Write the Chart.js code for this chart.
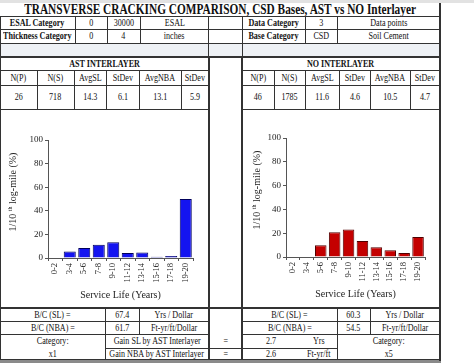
<!DOCTYPE html>
<html><head><meta charset="utf-8">
<script src="https://cdn.jsdelivr.net/npm/chart.js@4"></script>
<style>
html,body{margin:0;padding:0;background:#fff;}
#page{position:relative;width:474px;height:363px;overflow:hidden;font-family:'Liberation Serif','Times New Roman',serif;color:#111;}
.c{position:absolute;display:flex;align-items:center;justify-content:center;font-size:9.5px;white-space:nowrap;z-index:1;}
.c span{display:inline-block;transform:scaleX(0.85);transform-origin:center;}
.b{font-weight:bold;}
.ln{position:absolute;background:#333;z-index:3;}
canvas{position:absolute;z-index:0;}
</style></head>
<body><div id="page"></div>
<script>
// ---------- DATA ----------
const categories = ['0-2','3-4','5-6','7-8','9-10','11-12','13-14','15-16','17-18','19-20'];
const astValues = [0, 5.6, 8.4, 11.2, 13.4, 4.2, 4.7, 1.0, 1.6, 50.0];
const noValues  = [0, 0, 9.8, 20.9, 23.2, 13.4, 8.1, 5.6, 3.4, 16.8];
const yMin = 0, yMax = 100, yStep = 10;
const xAxisTitle = 'Service Life (Years)';
const yAxisTitleParts = ['1/10 ', 'th', ' log-mile (%)'];

const titleText = 'TRANSVERSE CRACKING COMPARISON, CSD Bases, AST vs NO Interlayer';
const topRow1 = ['ESAL Category','0','30000','ESAL','','Data Category','3','Data points'];
const topRow2 = ['Thickness Category','0','4','inches','','Base Category','CSD','Soil Cement'];
const astHeader = 'AST INTERLAYER';
const noHeader = 'NO INTERLAYER';
const statHeaders = ['N(P)','N(S)','AvgSL','StDev','AvgNBA','StDev'];
const astStats = ['26','718','14.3','6.1','13.1','5.9'];
const noStats  = ['46','1785','11.6','4.6','10.5','4.7'];
const bcLeft1 = ['B/C (SL) =','67.4','Yrs / Dollar'];
const bcLeft2 = ['B/C (NBA) =','61.7','Ft-yr/ft/Dollar'];
const bcRight1 = ['B/C (SL) =','60.3','Yrs / Dollar'];
const bcRight2 = ['B/C (NBA) =','54.5','Ft-yr/ft/Dollar'];
const gainRow1 = ['Category:','Gain SL by AST Interlayer','=','2.7','Yrs','Category:'];
const gainRow2 = ['x1','Gain NBA by AST Interlayer','=','2.6','Ft-yr/ft','x5'];

// ---------- LAYOUT HELPERS ----------
const page = document.getElementById('page');
function box(x1,y1,x2,y2,bg,z){const d=document.createElement('div');d.style.cssText=`position:absolute;left:${x1}px;top:${y1}px;width:${x2-x1}px;height:${y2-y1}px;background:${bg};z-index:${z||0}`;page.appendChild(d);}
function cell(x1,y1,x2,y2,text,bold,size,sx){const d=document.createElement('div');d.className='c'+(bold?' b':'');d.style.left=x1+'px';d.style.top=y1+'px';d.style.width=(x2-x1)+'px';d.style.height=(y2-y1)+'px';if(size)d.style.fontSize=size+'px';const s=document.createElement('span');s.textContent=text;if(sx)s.style.transform=`scaleX(${sx})`;d.appendChild(s);page.appendChild(d);}
function hl(y,x1,x2,t){const d=document.createElement('div');d.className='ln';d.style.cssText+=`left:${x1}px;top:${y}px;width:${x2-x1}px;height:${t||1}px`;page.appendChild(d);}
function vl(x,y1,y2,t){const d=document.createElement('div');d.className='ln';d.style.cssText+=`left:${x}px;top:${y1}px;width:${t||1}px;height:${y2-y1}px`;page.appendChild(d);}
function rowCells(cols,y1,y2,texts,boldIdx){texts.forEach((t,i)=>cell(cols[i],y1,cols[i+1],y2,t,boldIdx&&boldIdx.includes(i)));}

// backgrounds
box(0,0,474,3,'#e2e2e2');
box(0,43,440,57,'#eef1f5');
box(0,360,441,363,'#8a8a8a');

// title
cell(0,3,440,16,titleText,true,14.5,0.78);
const topCols=[0,75,107,140,209,242,305,337,440];
rowCells(topCols,16,29,topRow1,[0,5]);
rowCells(topCols,29,43,topRow2,[0,5]);

cell(0,57,209,70,astHeader,true);
cell(242,57,440,70,noHeader,true);
const lCols=[0,37,74,106,139,181,209], rCols=[242,274,305,339,370,410,440];
rowCells(lCols,70,85,statHeaders);
rowCells(rCols,70,85,statHeaders);
rowCells(lCols,85,109,astStats);
rowCells(rCols,85,109,noStats);

const bl=[0,105,139,209], br=[242,337,370,440];
rowCells(bl,308,321,bcLeft1); rowCells(bl,321,334,bcLeft2);
rowCells(br,308,321,bcRight1); rowCells(br,321,334,bcRight2);
const gCols=[0,105,209,242,300,337,440];
rowCells(gCols,334,348,gainRow1);
rowCells(gCols,348,360,gainRow2);

// lines
hl(16,0,440); hl(29,0,440); hl(43,0,440); hl(56,0,441,2);
hl(70,0,209); hl(70,243,440); hl(85,0,209); hl(85,243,440); hl(109,0,209); hl(109,243,440);
hl(307,0,441,2); hl(321,0,209); hl(321,243,440); hl(334,0,209); hl(334,243,440); hl(348,105,337);
hl(359,0,441,1);
vl(0,16,360); vl(439,3,361,2);
[75,107,140,305,337].forEach(x=>vl(x,16,43));
vl(208,16,57,1); vl(242,16,57,1);
vl(208,57,360,2); vl(241,57,360,2);
[37,74,106,139,181].forEach(x=>vl(x,70,109));
[274,305,339,370,410].forEach(x=>vl(x,70,109));
vl(105,308,360); vl(139,308,334); vl(337,308,360); vl(370,308,334);

// ---------- CHARTS ----------
const serif = "'Liberation Serif','Times New Roman',serif";
const yTitlePlugin = {
  id:'ytitle',
  afterDraw(chart,args,opts){
    const ctx=chart.ctx; ctx.save();
    ctx.translate(opts.x,opts.y); ctx.rotate(-Math.PI/2);
    const f1='10px '+serif, f2='6px '+serif;
    ctx.font=f1; const w1=ctx.measureText(yAxisTitleParts[0]).width;
    ctx.font=f2; const w2=ctx.measureText(yAxisTitleParts[1]).width;
    ctx.font=f1; const w3=ctx.measureText(yAxisTitleParts[2]).width;
    let x=-(w1+w2+w3)/2;
    ctx.fillStyle='#222'; ctx.textBaseline='middle';
    ctx.font=f1; ctx.fillText(yAxisTitleParts[0],x,0); x+=w1;
    ctx.font=f2; ctx.fillText(yAxisTitleParts[1],x,-3); x+=w2;
    ctx.font=f1; ctx.fillText(yAxisTitleParts[2],x,0);
    ctx.restore();
  }
};
function makeChart(left,top,w,h,values,color,border,g){
  const cv=document.createElement('canvas');
  cv.width=w; cv.height=h; cv.style.left=left+'px'; cv.style.top=top+'px';
  cv.style.width=w+'px'; cv.style.height=h+'px';
  page.appendChild(cv);
  new Chart(cv,{
    type:'bar',
    data:{labels:categories,datasets:[{data:values,backgroundColor:color,borderColor:border,borderWidth:1,barPercentage:0.83,categoryPercentage:1}]},
    plugins:[yTitlePlugin],
    options:{
      responsive:false,animation:false,devicePixelRatio:1,
      layout:{padding:{left:0,right:g.right,top:g.top,bottom:g.bottom}},
      plugins:{legend:{display:false},tooltip:{enabled:false},ytitle:{x:g.tx,y:g.ty}},
      scales:{
        x:{grid:{display:true,drawOnChartArea:false,tickLength:3,color:'#555',offset:true},
           border:{color:'#555'},
           ticks:{font:{family:serif,size:8.5},color:'#222',minRotation:90,maxRotation:90,padding:2,autoSkip:false},
           title:{display:true,text:xAxisTitle,font:{family:serif,size:10},color:'#222',padding:{top:4,bottom:0}},
           afterFit(s){s.height=g.xh;}},
        y:{min:yMin,max:yMax,
           ticks:{stepSize:yStep,font:{family:serif,size:9},color:'#222',padding:2},
           grid:{drawOnChartArea:false,tickLength:3,color:'#555'},
           border:{color:'#555'},
           afterFit(s){s.width=g.yw;}}
      }
    }
  });
}
makeChart(0,109,208,198,astValues,'#1414f0','#00005a',{yw:48,right:15,top:31,bottom:6,xh:43,tx:13,ty:83});
makeChart(243,109,196,198,noValues,'#c40000','#500000',{yw:43,right:14,top:29,bottom:7,xh:43,tx:14,ty:81});
</script>
</body></html>
